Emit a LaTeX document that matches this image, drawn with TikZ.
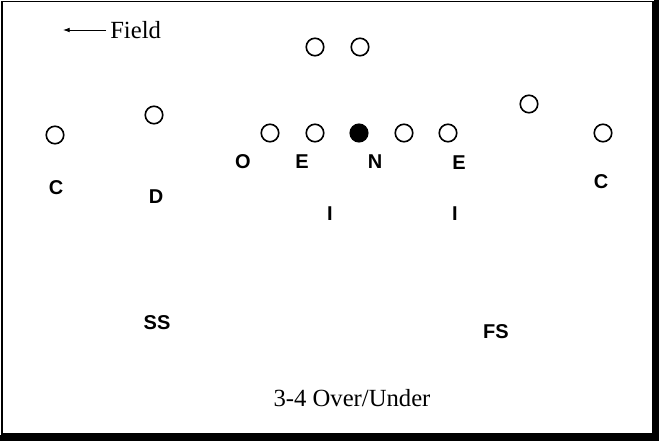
\documentclass[tikz,border=0pt]{standalone}
\usepackage{fontspec}
\setmainfont{Liberation Serif}
\setsansfont{Liberation Sans}
\usetikzlibrary{arrows.meta}
\begin{document}
\begin{tikzpicture}[x=0.75pt,y=-0.75pt,
  player/.style={circle,draw=black,line width=1.2pt,minimum size=17.5pt*0.75,inner sep=0pt,fill=white},
  ball/.style={player,fill=black},
  lbl/.style={font=\sffamily\bfseries\fontsize{15}{15}\selectfont,inner sep=0pt,anchor=center},
  serif/.style={font=\fontsize{18.5}{18.5}\selectfont,inner sep=0pt}]
\useasboundingbox (0,0) rectangle (659,441);
% shadow and frame
\fill[black] (653.5,0) rectangle (659,441);
\fill[black] (0,434.5) rectangle (659,441);
\draw[line width=0.9pt] (2,1.2) rectangle (653,434);
% field arrow
\coordinate (fa) at (106,30);
\coordinate (fb) at (63,30);
\draw[line width=0.6pt,-{Latex[length=5pt,width=3.5pt]}] (fa) -- (fb);
\node[serif,anchor=west] (field) at (110,30) {Field};
% players
\node[player] (c1) at (55,135) {};
\node[player] (d1) at (154,115) {};
\node[player] (b1) at (315,47) {};
\node[player] (b2) at (360,47) {};
\node[player] (l1) at (270,133) {};
\node[player] (l2) at (315,133) {};
\node[ball]   (l3) at (359,133) {};
\node[player] (l4) at (404,133) {};
\node[player] (l5) at (448,133) {};
\node[player] (r1) at (529,104) {};
\node[player] (c2) at (603,133) {};
% labels
\node[lbl] (lc1) at (56,188) {C};
\node[lbl] (ld) at (156,197) {D};
\node[lbl] (lo) at (243,162) {O};
\node[lbl] (le1) at (302,162) {E};
\node[lbl] (ln) at (375,162) {N};
\node[lbl] (le2) at (459,163) {E};
\node[lbl] (li1) at (330,214) {I};
\node[lbl] (li2) at (455,214) {I};
\node[lbl] (lc2) at (601,182) {C};
\node[lbl] (lss) at (157,323) {SS};
\node[lbl] (lfs) at (496,332) {FS};
\node[serif] (cap) at (352,398) {3-4 Over/Under};
\end{tikzpicture}
\end{document}
